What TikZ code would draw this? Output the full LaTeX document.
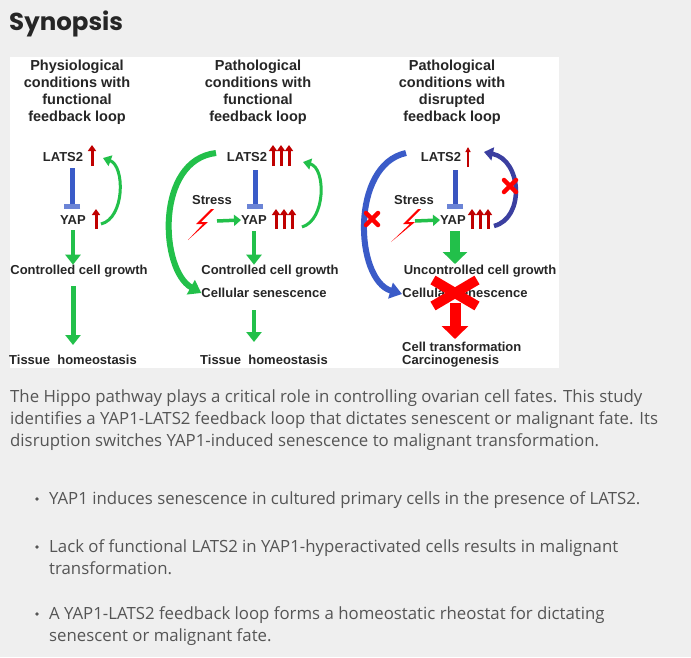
\documentclass[tikz,border=0pt]{standalone}
\usepackage{fontspec}
\setmainfont{Open Sans}
\newfontfamily\arialf{Liberation Sans}
\newfontfamily\headf{Poppins}
\usetikzlibrary{arrows.meta}
\definecolor{bg}{HTML}{EFEFEF}
\definecolor{gr}{HTML}{22C04A}
\definecolor{bl}{HTML}{3A5BC8}
\definecolor{nv}{HTML}{3B3FA0}
\definecolor{dr}{HTML}{C00000}
\definecolor{txt}{HTML}{555555}
\tikzset{
 lab/.style={font=\arialf\bfseries\fontsize{13}{15}\selectfont, inner sep=0pt, text=black!85},
 hd/.style={lab, align=center, font=\arialf\bfseries\fontsize{14.5}{17}\selectfont},
 body/.style={font=\fontsize{16.8}{18}\selectfont, text=txt, inner sep=0pt, anchor=base west},
 garr/.style={draw=gr, line width=#1, -{Triangle[length=10pt,width=15pt]}},
 garr/.default=4pt,
 rarr/.style={draw=dr, line width=3pt, -{Triangle[length=6pt,width=8pt]}},
 inh/.style={draw=bl, line width=5pt, -{Bar[width=16pt,line width=5pt,color=bl!75]}},
 xmark/.style={draw=red, line width=#1, line cap=round},
}
\begin{document}
\begin{tikzpicture}[x=1pt,y=-1pt]
\fill[bg] (0,0) rectangle (691,657);
\useasboundingbox (0,0) rectangle (691,657);
\fill[white] (10,57) rectangle (559,368);
\node[anchor=base west, inner sep=0pt, font=\headf\bfseries\fontsize{24.5}{28}\selectfont, text=black!85] (title) at (9,30) {Synopsis};
% headings
\node[hd] (h1) at (77,92) {Physiological\\conditions with\\functional\\feedback loop};
\node[hd] (h2) at (258,92) {Pathological\\conditions with\\functional\\feedback loop};
\node[hd] (h3) at (452,92) {Pathological\\conditions with\\disrupted\\feedback loop};
% column 1
\node[lab] (l1) at (63,157) {LATS2};
\node[lab] (y1) at (73,220) {YAP};
\draw[rarr] (92,166) -- (92,145);
\draw[rarr] (96,229) -- (96,209);
\draw[inh] (72,168) -- (72,209);
\draw[gr, line width=3pt, -{Triangle[length=8pt,width=11pt]}] (101,224) .. controls (125,218) and (125,166) .. (103,158);
\node[lab] (c1) at (79,271) {Controlled cell growth};
\draw[garr=3.5pt] (73,230) -- (c1.north -| y1);
\node[lab] (t1) at (73,360) {Tissue\ \ homeostasis};
\draw[garr=5pt] (73,286) -- (73,345);
% column 2
\node[lab] (l2) at (247,157) {LATS2};
\node[lab] (y2) at (254,220) {YAP};
\foreach \xx in {273,281,289}{\draw[rarr] (\xx,166) -- (\xx,145); \draw[rarr] (\xx+3,229) -- (\xx+3,209);}
\draw[inh] (255,170) -- (255,209);
\node[lab] (s2) at (212,200) {Stress};
\fill[red] (211,209) -- (196,224) -- (203,224) -- (188,240) -- (208,222) -- (201,222) -- (214,209) -- cycle;
\draw[gr, line width=3.5pt, -{Triangle[length=7pt,width=11pt]}] (217,221) -- (y2.west);
\draw[gr, line width=3pt, -{Triangle[length=8pt,width=11pt]}] (302,227) .. controls (326,220) and (326,168) .. (303,162);
\node[lab] (c2) at (270,271) {Controlled cell growth};
\draw[garr=3.5pt] (254,231) -- (c2.north -| y2);
\node[lab] (cs2) at (264,293) {Cellular senescence};
\draw[gr, line width=6pt, -{Triangle[length=12pt,width=16pt]}] (216,153) .. controls (155,160) and (160,270) .. (cs2.west);
\draw[garr=4.5pt] (254,310) -- (254,342);
\node[lab] (t2) at (264,360) {Tissue\ \ homeostasis};
% column 3
\node[lab] (l3) at (441,157) {LATS2};
\node[lab] (y3) at (453,220) {YAP};
\draw[draw=dr, line width=1.2pt, -{Triangle[length=5pt,width=5pt]}] (468,167) -- (468,147);
\foreach \xx in {472,480,488}{\draw[rarr] (\xx,229) -- (\xx,209);}
\draw[inh, draw=bl!80!nv] (455,170) -- (455,209);
\node[lab] (s3) at (414,200) {Stress};
\fill[red] (418,209) -- (403,224) -- (410,224) -- (391,242) -- (415,222) -- (408,222) -- (421,209) -- cycle;
\draw[gr, line width=3.5pt, -{Triangle[length=7pt,width=11pt]}] (415,221) -- (y3.west);
\draw[nv, line width=4.5pt, -{Triangle[length=9pt,width=13pt]}] (494,226) .. controls (525,218) and (522,160) .. (484,152);
\draw[xmark=4.5pt] (504,180) -- (516,192) (504,192) -- (516,180);
\draw[bl, line width=6pt, -{Triangle[length=12pt,width=16pt]}] (406,153) .. controls (350,165) and (355,280) .. (402,294);
\draw[xmark=4.5pt] (366,213) -- (378,225) (366,225) -- (378,213);
\draw[gr, line width=10pt, -{Triangle[length=12pt,width=24pt]}] (455,231) -- (455,264);
\node[lab] (c3) at (480,271) {Uncontrolled\ cell growth};
\node[lab] (cs3) at (465,293) {Cellular senescence};
\draw[xmark=10pt, line cap=butt] (433,280) -- (477,306) (433,306) -- (477,280);
\draw[red, line width=11pt, -{Triangle[length=13pt,width=26pt]}] (455,303) -- (455,339);
\node[lab, anchor=west] (ct3) at (402,347) {Cell transformation};
\node[lab, anchor=west] (cg3) at (402,361) {Carcinogenesis};
% body text
\node[body] (p1) at (10,402) {The Hippo pathway plays a critical role in controlling ovarian cell fates. This study};
\node[body] (p2) at (10,424) {identifies a YAP1-LATS2 feedback loop that dictates senescent or malignant fate. Its};
\node[body] (p3) at (10,446) {disruption switches YAP1-induced senescence to malignant transformation.};
\foreach \yy in {499,547,614}{\fill[txt] (37,\yy) circle (1.8);}
\node[body] (b1) at (49,504) {YAP1 induces senescence in cultured primary cells in the presence of LATS2.};
\node[body] (b2) at (49,552) {Lack of functional LATS2 in YAP1-hyperactivated cells results in malignant};
\node[body] (b2b) at (49,574) {transformation.};
\node[body] (b3) at (49,619) {A YAP1-LATS2 feedback loop forms a homeostatic rheostat for dictating};
\node[body] (b3b) at (49,641) {senescent or malignant fate.};
\end{tikzpicture}
\end{document}
